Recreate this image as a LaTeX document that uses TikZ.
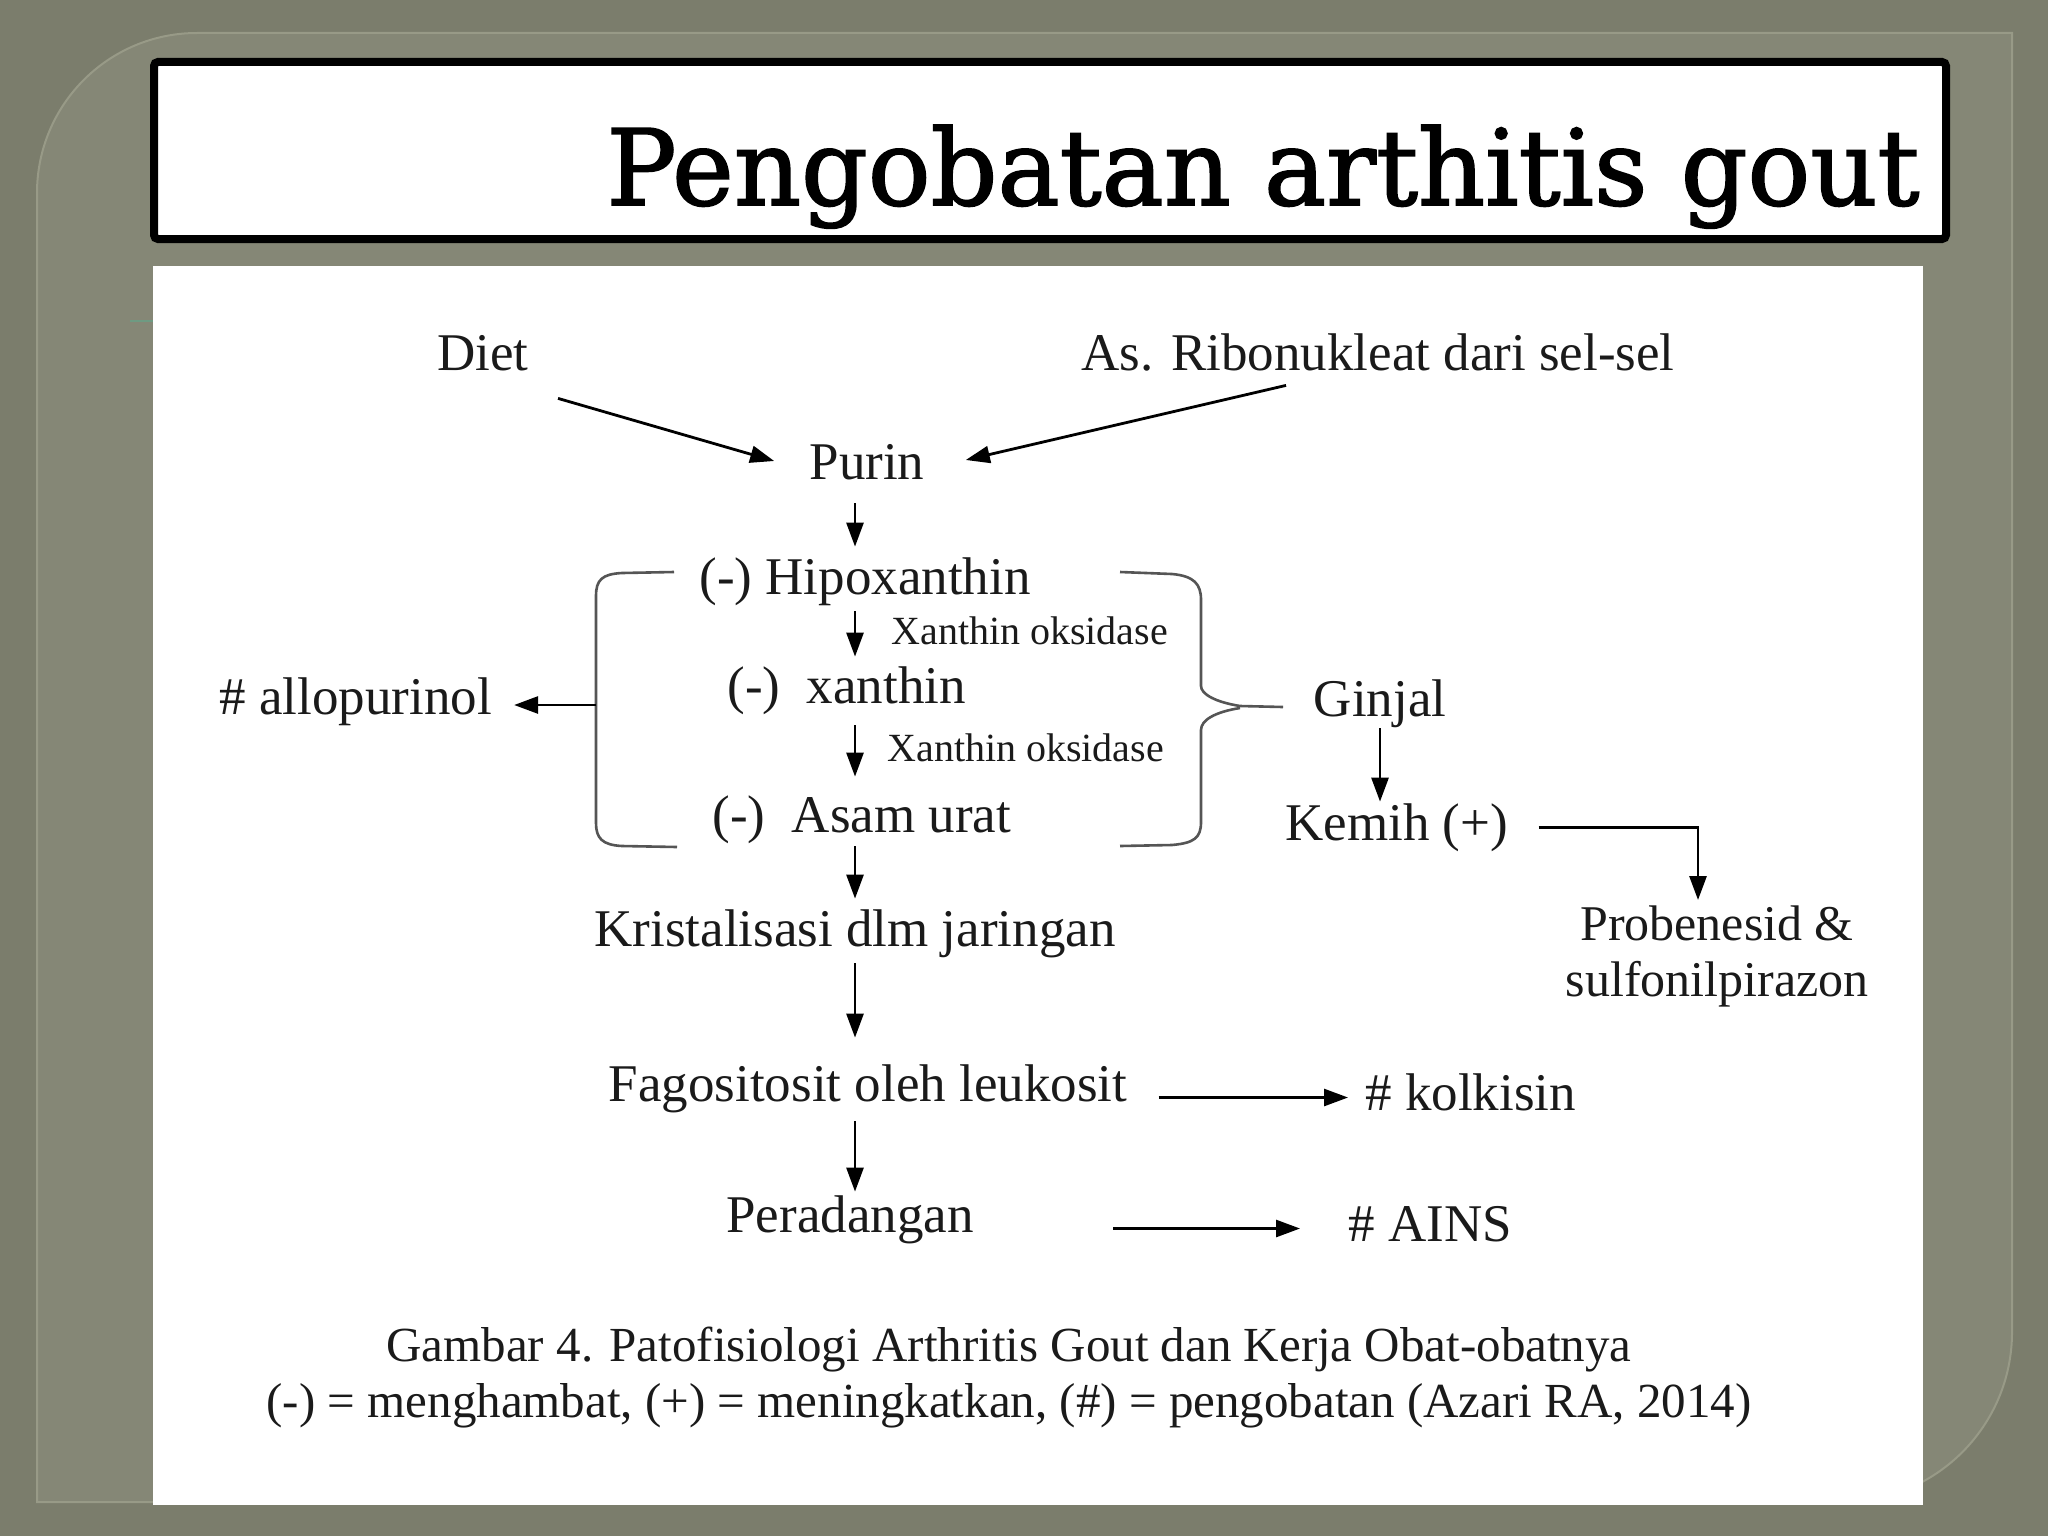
\documentclass[tikz,border=0pt]{standalone}
\usepackage{fontspec}
\setmainfont{Liberation Serif}
\newfontfamily\titlefont[FakeBold=1.6]{DejaVu Serif}
\usetikzlibrary{arrows.meta}
\definecolor{outerbg}{HTML}{7B7D6C}
\definecolor{panelbg}{HTML}{858776}
\definecolor{panelline}{HTML}{989A87}
\definecolor{ink}{HTML}{1A1A1A}
\definecolor{bracecol}{HTML}{555555}
\definecolor{tick}{HTML}{6E9A82}
\begin{document}
\begin{tikzpicture}[x=0.5pt,y=-0.5pt,
  lbl/.style={inner sep=0pt, text=ink, font=\fontsize{26.5}{28}\selectfont, text height=18.5pt, text depth=6pt},
  smalllbl/.style={inner sep=0pt, text=ink, font=\fontsize{20}{22}\selectfont},
  caplbl/.style={inner sep=0pt, text=ink, font=\fontsize{24.5}{26}\selectfont},
  arr/.style={draw=black, line width=1.4pt, -{Triangle[length=12pt,width=8.5pt]}},
  bracel/.style={draw=bracecol, line width=1.3pt}]
\useasboundingbox (0,0) rectangle (2048,1536);
% background
\fill[outerbg] (0,0) rectangle (2048,1536);
\path[draw=panelline, fill=panelbg, line width=1pt]
  (37,1502) -- (37,193) .. controls (37,104.6) and (108.6,33) .. (197,33)
  -- (2012,33) -- (2012,1332) .. controls (2012,1425.9) and (1935.9,1502) .. (1842,1502) -- cycle;
\draw[tick, line width=1pt] (130,321) -- (153,321);
% title box
\draw[line width=4pt, fill=white, rounded corners=2pt] (154,62) rectangle (1946,239);
\node[anchor=base east, inner sep=0pt] (title) at (1920,205)
  {\resizebox{656.5pt}{40pt}{\titlefont Pengobatan arthitis gout}};
% image area
\fill[white] (153,266) rectangle (1923,1505);
% nodes
\node[lbl, anchor=base] (diet) at (483,370) {Diet};
\node[lbl, anchor=base] (ribo) at (1378,370) {As. Ribonukleat dari sel-sel};
\node[lbl, anchor=base] (purin) at (867,479) {Purin};
\node[lbl, anchor=base west] (hipo) at (699,594) {(-) Hipoxanthin};
\node[smalllbl, anchor=base west] (xo1) at (891,644) {Xanthin oksidase};
\node[lbl, anchor=base west] (xan) at (727,703) {(-)\hspace{0.5em}xanthin};
\node[smalllbl, anchor=base west] (xo2) at (887,761) {Xanthin oksidase};
\node[lbl, anchor=base west] (asam) at (712,832) {(-)\hspace{0.5em}Asam urat};
\node[lbl, anchor=base] (kristal) at (855,946) {Kristalisasi dlm jaringan};
\node[lbl, anchor=base] (fago) at (868,1101) {Fagositosit oleh leukosit};
\node[lbl, anchor=base] (perad) at (850,1232) {Peradangan};
\node[lbl, anchor=base west] (kolk) at (1365,1110) {\# kolkisin};
\node[lbl, anchor=base west] (ains) at (1348,1241) {\# AINS};
\node[lbl, anchor=base west] (allo) at (219,714) {\# allopurinol};
\node[lbl, anchor=base] (ginjal) at (1380,716) {Ginjal};
\node[lbl, anchor=base west] (kemih) at (1285,840) {Kemih (+)};
\node[inner sep=0pt, text=ink, font=\fontsize{25}{28}\selectfont, align=center, anchor=north]
  (prob) at (1717,905) {Probenesid \&\\sulfonilpirazon};
\node[caplbl, anchor=base] (cap1) at (1009,1361) {Gambar 4. Patofisiologi Arthritis Gout dan Kerja Obat-obatnya};
\node[caplbl, anchor=base] (cap2) at (1009,1417) {(-) = menghambat, (+) = meningkatkan, (\#) = pengobatan (Azari RA, 2014)};
% braces
\draw[bracel] (674,572) -- (622,573) .. controls (602,574) and (596,580) .. (596,596)
  -- (596,823) .. controls (596,838) and (602,845) .. (622,846) -- (677,847);
\draw[bracel] (1120,572) -- (1172,574) .. controls (1194,576) and (1201,584) .. (1201,600)
  -- (1201,686) .. controls (1201,694) and (1215,702) .. (1240,706) -- (1283,707);
\draw[bracel] (1240,708) .. controls (1215,712) and (1201,720) .. (1201,730)
  -- (1201,822) .. controls (1201,838) and (1194,843) .. (1172,845) -- (1120,846);
\coordinate (lb) at (596,705);
\coordinate (ax) at (855,0);
% connectors
\draw[arr] ([shift={(29,16)}]diet.south east) -- ([shift={(-35,-5.5)}]purin.west);
\draw[arr] ([shift={(-92,3)}]ribo.south) -- ([shift={(41,-6.5)}]purin.east);
\draw[arr, shorten <=6pt, shorten >=5pt] (purin.south -| ax) -- (hipo.north -| ax);
\draw[arr, shorten <=2.5pt, shorten >=4.5pt] (hipo.south -| ax) -- (xan.north -| ax);
\draw[arr, shorten <=5pt, shorten >=9pt] (xan.south -| ax) -- (asam.north -| ax);
\draw[arr, shorten <=1pt, shorten >=5pt] (asam.south -| ax) -- (kristal.north -| ax);
\draw[arr, shorten <=2.5pt, shorten >=13pt] (kristal.south -| ax) -- (fago.north -| ax);
\draw[arr, shorten <=4pt, shorten >=1.5pt] (fago.south -| ax) -- (perad.north -| ax);
\draw[arr, shorten >=11pt] (lb) -- (allo.east |- lb);
\draw[arr, shorten >=0.5pt] (ginjal.south) -- (ginjal.south |- kemih.north);
\draw[arr, shorten <=15pt, shorten >=2.5pt] (kemih.east) -| ([shift={(-19,0)}]prob.north);
\draw[arr, shorten <=15.5pt, shorten >=8.5pt] (fago.east |- kolk.west) -- (kolk.west);
\draw[arr, shorten <=69.5pt, shorten >=24pt] (perad.east |- ains.west) -- (ains.west);
\end{tikzpicture}
\end{document}
